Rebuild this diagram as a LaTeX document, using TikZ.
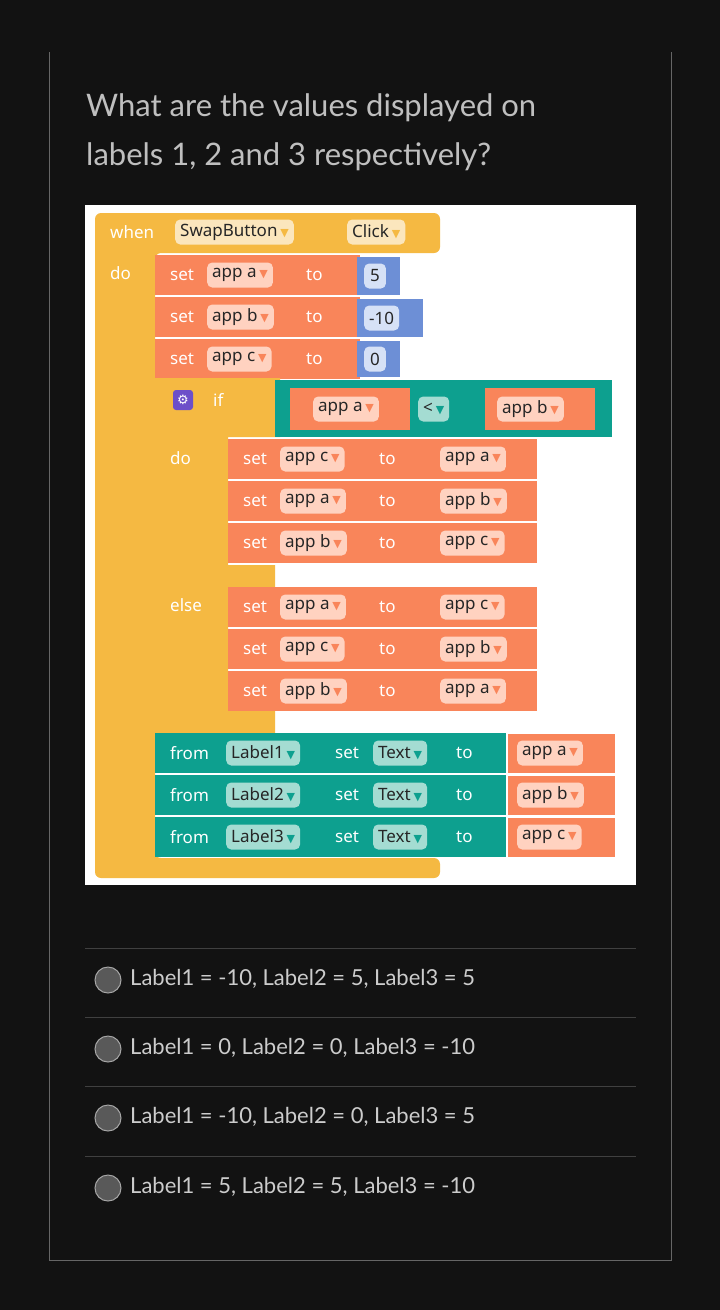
\documentclass[tikz,border=0pt]{standalone}
\usepackage{fontspec}
\setmainfont{Lato}
\newfontfamily\blk{Noto Sans}
\newfontfamily\djv{DejaVu Sans}
\definecolor{bg}{HTML}{121212}
\definecolor{yel}{HTML}{F5B942}
\definecolor{org}{HTML}{F9855A}
\definecolor{orgp}{HTML}{FFD2C0}
\definecolor{teal}{HTML}{0DA08F}
\definecolor{tealp}{HTML}{A4DCD2}
\definecolor{blu}{HTML}{6D8FD6}
\definecolor{blup}{HTML}{D6E1F6}
\definecolor{pur}{HTML}{6D4FC9}
\begin{document}
\begin{tikzpicture}[x=1pt,y=-1pt,
  wt/.style={text=white,font=\blk\fontsize{17}{19}\selectfont,inner sep=0pt,anchor=west},
  pill/.style={rounded corners=5pt,inner xsep=5pt,inner ysep=0pt,minimum height=25pt,text=black!85,font=\blk\fontsize{17}{19}\selectfont,anchor=west},
  opill/.style={pill,fill=orgp},
  tpill/.style={pill,fill=tealp},
  bpill/.style={pill,fill=blup},
  ypill/.style={pill,fill=yel!35},
  opt/.style={text=black!20!white,font=\fontsize{22}{26}\selectfont,anchor=west,inner sep=0pt},
  radio/.style={circle,fill=black!65!white,draw=black!35!white,line width=1pt,minimum size=26pt,inner sep=0pt}]
\newcommand\dd[1]{\,{\djv\fontsize{11}{11}\selectfont\textcolor{#1}{▼}}}
\useasboundingbox (0,0) rectangle (720,1310);
\fill[bg] (0,0) rectangle (720,1310);
\draw[black!60!white,line width=1pt] (49,52) -- (49,1260) -- (671,1260) -- (671,52);
\node[anchor=west,text=black!25!white,font=\fontsize{31}{36}\selectfont,inner sep=0pt] (t1) at (86,108) {What are the values displayed on};
\node[anchor=west,text=black!25!white,font=\fontsize{31}{36}\selectfont,inner sep=0pt] (t2) at (86,157) {labels 1, 2 and 3 respectively?};
\fill[white] (85,205) rectangle (636,885);
% event block
\fill[yel,rounded corners=6pt] (95,213)--(440,213)--(440,253)--(155,253)--(155,858)--(440,858)--(440,878)--(95,878)--cycle;
\node[wt] (w) at (110,232) {when};
\node[ypill] (sb) at (175,232) {SwapButton\dd{yel}};
\node[ypill] (ck) at (347,232) {Click\dd{yel}};
\node[wt] (do1) at (110,273) {do};
% set blocks with blue values
\newcommand\setrow[4]{% y, x, var, name
  \fill[org] (#2,#1) rectangle (#2+205,#1+40);
  \node[wt] (#4s) at (#2+15,#1+20) {set};
  \node[opill] (#4p) at (#2+52,#1+20) {#3\dd{org}};
  \node[wt] (#4t) at (#2+151,#1+20) {to};}
\setrow{255}{155}{app a}{r1}
\setrow{297}{155}{app b}{r2}
\setrow{339}{155}{app c}{r3}
\fill[blu] (357,257) rectangle (400,295); \node[bpill,inner xsep=6pt] (v1) at (364,276) {5};
\fill[blu] (357,299) rectangle (423,337); \node[bpill] (v2) at (364,318) {-10};
\fill[blu] (357,341) rectangle (400,377); \node[bpill,inner xsep=6pt] (v3) at (364,359) {0};
% if block
\fill[yel] (155,378)--(280,378)--(280,437)--(228,437)--(228,565)--(275,565)--(275,587)--(228,587)--(228,711)--(275,711)--(275,733)--(155,733)--cycle;
\node[fill=pur,rounded corners=3pt,minimum size=20pt,inner sep=0pt,text=white,font=\djv\fontsize{13}{13}\selectfont] (g) at (183,400) {⚙};
\node[wt] (if) at (213,400) {if};
\fill[teal] (275,380) rectangle (612,437);
\fill[org] (290,388) rectangle (410,430); \node[opill] (ca) at (313,409) {app a\dd{org}};
\node[tpill] (lt) at (418,409) {<\dd{teal}};
\fill[org] (485,388) rectangle (595,430); \node[opill] (cb) at (497,409) {app b\dd{org}};
\node[wt] (do2) at (170,458) {do};
\node[wt] (el) at (170,605) {else};
\newcommand\valo[3]{\fill[org] (432,#1) rectangle (537,#1+40); \node[opill] (#3) at (440,#1+20) {#2\dd{org}};}
\setrow{439}{228}{app c}{d1} \valo{439}{app a}{e1}
\setrow{481}{228}{app a}{d2} \valo{481}{app b}{e2}
\setrow{523}{228}{app b}{d3} \valo{523}{app c}{e3}
\setrow{587}{228}{app a}{f1} \valo{587}{app c}{g1}
\setrow{629}{228}{app c}{f2} \valo{629}{app b}{g2}
\setrow{671}{228}{app b}{f3} \valo{671}{app a}{g3}
% teal rows
\newcommand\trow[4]{%
  \fill[teal] (155,#1) rectangle (506,#1+40);
  \node[wt] (#4f) at (170,#1+20) {from};
  \node[tpill] (#4l) at (226,#1+20) {#2\dd{teal}};
  \node[wt] (#4s) at (335,#1+20) {set};
  \node[tpill] (#4x) at (373,#1+20) {Text\dd{teal}};
  \node[wt] (#4t) at (456,#1+20) {to};
  \fill[org] (508,#1+1) rectangle (615,#1+40);
  \node[opill] (#4v) at (517,#1+20) {#3\dd{org}};}
\trow{733}{Label1}{app a}{h1}
\trow{775}{Label2}{app b}{h2}
\trow{817}{Label3}{app c}{h3}
% options
\foreach \y in {948,1017,1086,1156} \draw[black!75!white] (85,\y) -- (636,\y);
\node[radio] (c1) at (108,980) {}; \node[opt] (o1) at (130,979) {Label1 = -10, Label2 = 5, Label3 = 5};
\node[radio] (c2) at (108,1049) {}; \node[opt] (o2) at (130,1048) {Label1 = 0, Label2 = 0, Label3 = -10};
\node[radio] (c3) at (108,1118) {}; \node[opt] (o3) at (130,1117) {Label1 = -10, Label2 = 0, Label3 = 5};
\node[radio] (c4) at (108,1188) {}; \node[opt] (o4) at (130,1187) {Label1 = 5, Label2 = 5, Label3 = -10};
\end{tikzpicture}
\end{document}
